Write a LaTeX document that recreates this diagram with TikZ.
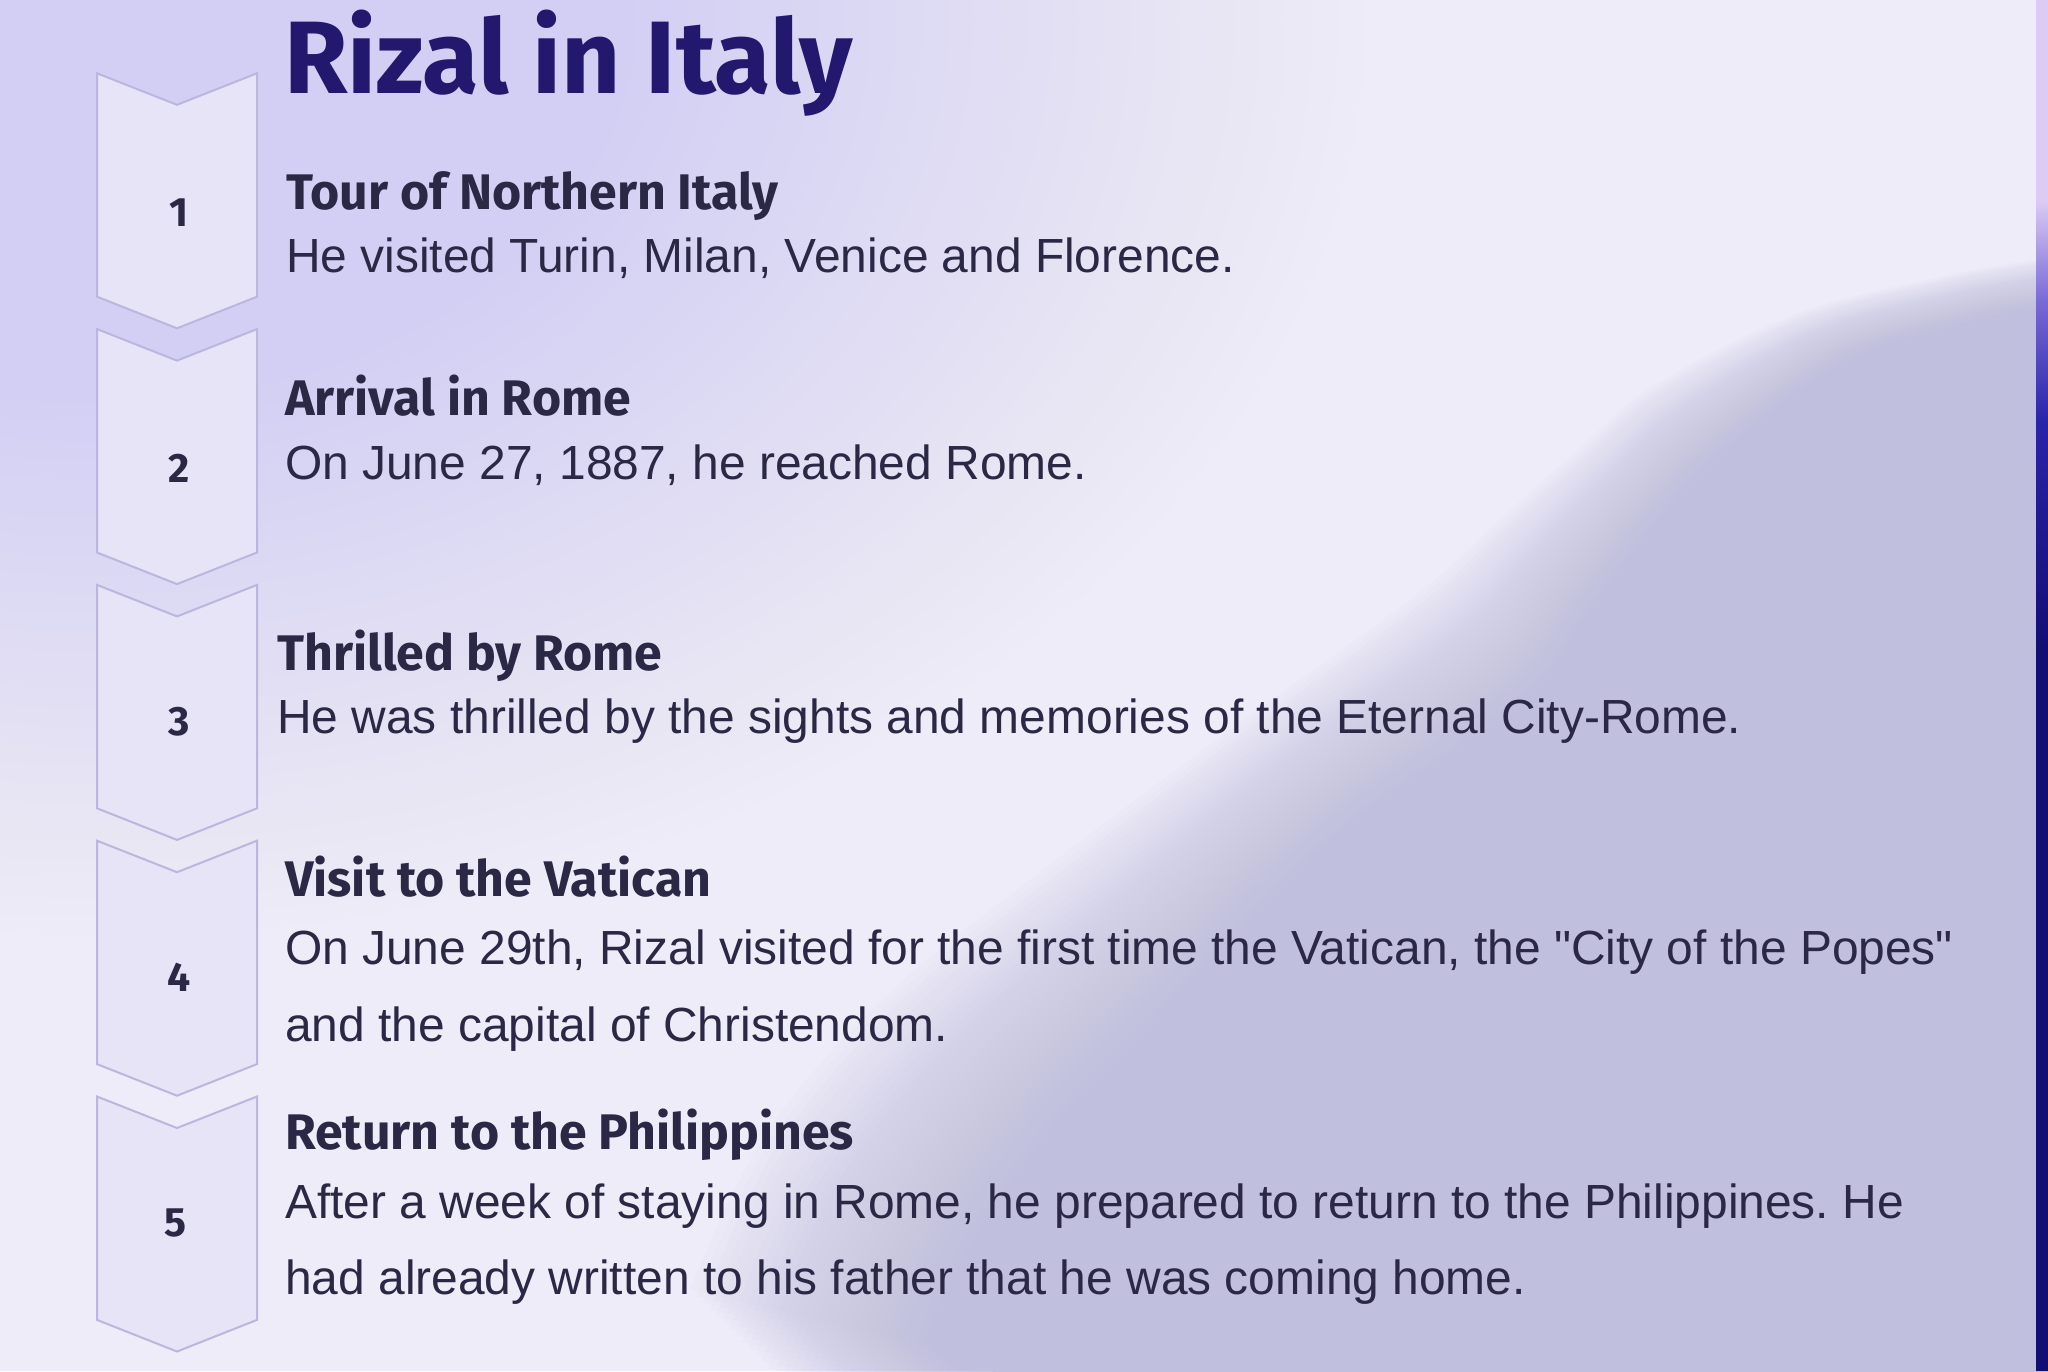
\documentclass[tikz,border=0pt]{standalone}
\usepackage{fontspec}
\setmainfont{Liberation Sans}[Ligatures=TeXOff]
\newfontfamily\headfont{Fira Sans}
\frenchspacing
\definecolor{bgbase}{HTML}{EFECF9}
\definecolor{glowc}{HTML}{D3CFF4}
\definecolor{darkc}{HTML}{C0BFDE}
\definecolor{chevfill}{HTML}{E7E4F8}
\definecolor{chevline}{HTML}{BAB6DE}
\definecolor{titlec}{HTML}{22196F}
\definecolor{ink}{HTML}{2A2845}
\definecolor{stripA}{HTML}{DCCCF4}
\definecolor{stripB}{HTML}{7A6AD6}
\definecolor{stripC}{HTML}{2A24A8}
\definecolor{stripD}{HTML}{120E72}
\begin{document}
\begin{tikzpicture}[x=1pt,y=-1pt,
  chev/.style={fill=chevfill, draw=chevline, line width=2pt, line join=miter},
  numlbl/.style={font=\headfont\bfseries\fontsize{41}{48}\selectfont, text=ink, inner sep=0pt},
  head/.style={font=\headfont\bfseries\fontsize{50}{60}\selectfont, text=ink, anchor=base west, inner sep=0pt},
  body/.style={font=\fontsize{47.9}{57}\selectfont, text=ink, anchor=base west, inner sep=0pt},
  titlestyle/.style={font=\headfont\bfseries\fontsize{103}{120}\selectfont, text=titlec, anchor=base west, inner sep=0pt}
]
\useasboundingbox (0,0) rectangle (2048,1371);
\begin{scope}
\clip (0,0) rectangle (2048,1371);
\fill[bgbase] (0,0) rectangle (2048,1371);
% soft glow in the upper left
\foreach \r in {1,...,44} {
  \fill[glowc, opacity=0.03] (100,20) ellipse [x radius={120+26*\r}, y radius={80+19*\r}];
}
% soft darker region in the lower right: solid core, then a feathered edge
\fill[darkc] plot[smooth, tension=0.6] coordinates {(2328,278) (2076,318) (1987,335) (1860,378) (1743,476) (1682,546) (1619,640) (1556,735) (1370,870) (1226,1030) (1089,1193) (995,1365) (950,1550)} -- (2500,1700) -- (2500,278) -- cycle;
\foreach \t in {-1,-0.95,...,1.01} {
  \fill[darkc, opacity=0.05] plot[smooth, tension=0.6] coordinates {
    ({2300+28*\t},{250+28*\t}) ({2048+28*\t},{290+28*\t}) ({1959+28*\t},{307+28*\t})
    ({1828+32*\t},{346+32*\t}) ({1698+45*\t},{431+45*\t}) ({1632+50*\t},{496+50*\t})
    ({1559+60*\t},{580+60*\t}) ({1486+70*\t},{665+70*\t})
    ({1300+70*\t},{800+70*\t}) ({1141+85*\t},{945+85*\t}) ({989+100*\t},{1093+100*\t})
    ({880+115*\t},{1250+115*\t}) ({820+130*\t},{1420+130*\t})} -- (2500,1700) -- (2500,200) -- cycle;
}
% right-hand strip
\fill[stripA] (2036,0) rectangle (2048,200);
\shade[top color=stripA, bottom color=stripB] (2036,200) rectangle (2048,300);
\shade[top color=stripB, bottom color=stripC] (2036,300) rectangle (2048,420);
\shade[top color=stripC, bottom color=stripD] (2036,420) rectangle (2048,650);
\fill[stripD] (2036,650) rectangle (2048,1371);
\end{scope}
% chevrons
\foreach \i in {0,...,4} {
  \pgfmathsetmacro\yy{73.3+255.8*\i}
  \draw[chev] (97,\yy) -- (177,\yy+31.5) -- (257,\yy) -- (257,\yy+223.4) -- (177,\yy+255) -- (97,\yy+223.4) -- cycle;
}
\node[numlbl] (n1) at (179,213) {1};
\node[numlbl] (n2) at (179,468) {2};
\node[numlbl] (n3) at (179,722) {3};
\node[numlbl] (n4) at (179,977) {4};
\node[numlbl] (n5) at (175,1223) {5};
% title
\node[titlestyle] (title) at (284,93) {Rizal in Italy};
% entries
\node[head] (h1) at (286,209) {Tour of Northern Italy};
\node[body] (b1) at (286,272) {He visited Turin, Milan, Venice and Florence.};
\node[head] (h2) at (285,415) {Arrival in Rome};
\node[body] (b2) at (285,479) {On June 27, 1887, he reached Rome.};
\node[head] (h3) at (277,670) {Thrilled by Rome};
\node[body] (b3) at (277,733) {He was thrilled by the sights and memories of the Eternal City-Rome.};
\node[head] (h4) at (285,896) {Visit to the Vatican};
\node[body] (b4a) at (285,964) {On June 29th, Rizal visited for the first time the Vatican, the "City of the Popes"};
\node[body] (b4b) at (285,1041) {and the capital of Christendom.};
\node[head] (h5) at (285,1149) {Return to the Philippines};
\node[body] (b5a) at (285,1218) {After a week of staying in Rome, he prepared to return to the Philippines. He};
\node[body] (b5b) at (285,1294) {had already written to his father that he was coming home.};
\end{tikzpicture}
\end{document}
